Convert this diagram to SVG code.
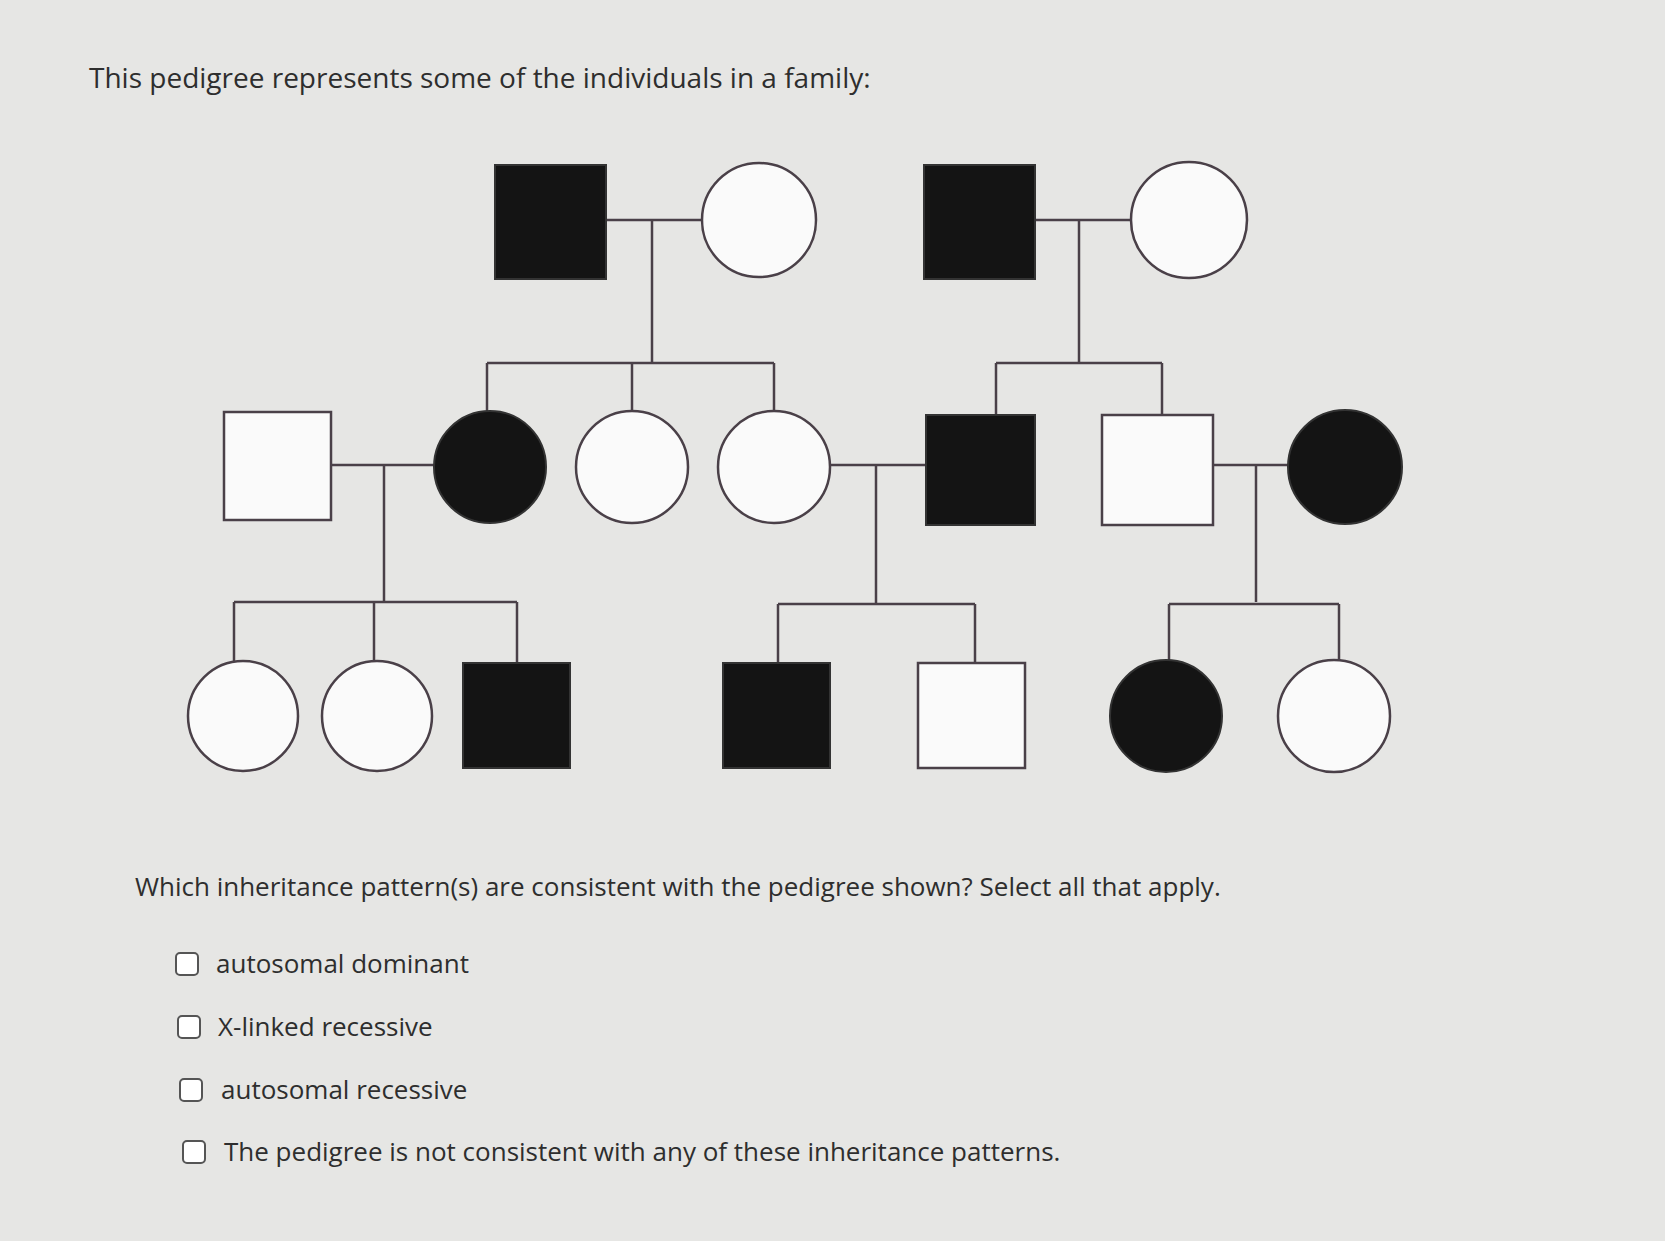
<svg xmlns="http://www.w3.org/2000/svg" width="1665" height="1241" viewBox="0 0 1665 1241">
<style>
.e{fill:#fafafa;stroke:#4a4048;stroke-width:2.5}
.f{fill:#141414;stroke:#333;stroke-width:2}
.t{font-family:"Open Sans",sans-serif;fill:#2e2e2e}
.cb{fill:#fff;stroke:#555;stroke-width:2}
#connectors line{stroke:#4a4048;stroke-width:2.5}
</style>
<rect width="1665" height="1241" fill="#e6e6e4"/>
<text class="t" x="89" y="88" font-size="28">This pedigree represents some of the individuals in a family:</text>
<g id="connectors">
<line x1="606" y1="220" x2="702" y2="220"/><line x1="652" y1="220" x2="652" y2="363"/>
<line x1="487" y1="363" x2="774" y2="363"/>
<line x1="487" y1="363" x2="487" y2="411"/><line x1="632" y1="363" x2="632" y2="411"/><line x1="774" y1="363" x2="774" y2="411"/>
<line x1="1035" y1="220" x2="1131" y2="220"/><line x1="1079" y1="220" x2="1079" y2="363"/>
<line x1="996" y1="363" x2="1162" y2="363"/>
<line x1="996" y1="363" x2="996" y2="415"/><line x1="1162" y1="363" x2="1162" y2="415"/>
<line x1="331" y1="465" x2="434" y2="465"/><line x1="384" y1="465" x2="384" y2="602"/>
<line x1="830" y1="465" x2="926" y2="465"/><line x1="876" y1="465" x2="876" y2="604"/>
<line x1="1213" y1="465" x2="1289" y2="465"/><line x1="1256" y1="465" x2="1256" y2="602"/>
<line x1="234" y1="602" x2="517" y2="602"/>
<line x1="234" y1="602" x2="234" y2="661"/><line x1="374" y1="602" x2="374" y2="661"/><line x1="517" y1="602" x2="517" y2="663"/>
<line x1="778" y1="604" x2="975" y2="604"/>
<line x1="778" y1="604" x2="778" y2="663"/><line x1="975" y1="604" x2="975" y2="663"/>
<line x1="1169" y1="604" x2="1339" y2="604"/>
<line x1="1169" y1="604" x2="1169" y2="660"/><line x1="1339" y1="604" x2="1339" y2="661"/>
</g>
<g id="I1"><rect class="f" x="495" y="165" width="111" height="114"/></g>
<g id="I2"><circle class="e" cx="759" cy="220" r="57"/></g>
<g id="I3"><rect class="f" x="924" y="165" width="111" height="114"/></g>
<g id="I4"><circle class="e" cx="1189" cy="220" r="58"/></g>
<g id="II1"><rect class="e" x="224" y="412" width="107" height="108"/></g>
<g id="II2"><circle class="f" cx="490" cy="467" r="56"/></g>
<g id="II3"><circle class="e" cx="632" cy="467" r="56"/></g>
<g id="II4"><circle class="e" cx="774" cy="467" r="56"/></g>
<g id="II5"><rect class="f" x="926" y="415" width="109" height="110"/></g>
<g id="II6"><rect class="e" x="1102" y="415" width="111" height="110"/></g>
<g id="II7"><circle class="f" cx="1345" cy="467" r="57"/></g>
<g id="III1"><circle class="e" cx="243" cy="716" r="55"/></g>
<g id="III2"><circle class="e" cx="377" cy="716" r="55"/></g>
<g id="III3"><rect class="f" x="463" y="663" width="107" height="105"/></g>
<g id="III4"><rect class="f" x="723" y="663" width="107" height="105"/></g>
<g id="III5"><rect class="e" x="918" y="663" width="107" height="105"/></g>
<g id="III6"><circle class="f" cx="1166" cy="716" r="56"/></g>
<g id="III7"><circle class="e" cx="1334" cy="716" r="56"/></g>
<text class="t" x="135" y="896" font-size="26">Which inheritance pattern(s) are consistent with the pedigree shown? Select all that apply.</text>
<rect class="cb" x="176" y="953" width="22" height="22" rx="4"/>
<text class="t" x="216" y="973" font-size="26">autosomal dominant</text>
<rect class="cb" x="178" y="1016" width="22" height="22" rx="4"/>
<text class="t" x="218" y="1036" font-size="26">X-linked recessive</text>
<rect class="cb" x="180" y="1079" width="22" height="22" rx="4"/>
<text class="t" x="221" y="1099" font-size="26">autosomal recessive</text>
<rect class="cb" x="183" y="1141" width="22" height="22" rx="4"/>
<text class="t" x="224" y="1161" font-size="26">The pedigree is not consistent with any of these inheritance patterns.</text>
</svg>
